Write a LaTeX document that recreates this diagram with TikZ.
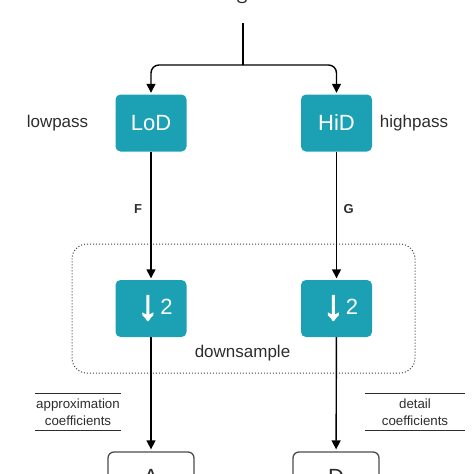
\documentclass[tikz,border=0pt]{standalone}
\usepackage{fontspec}
\setmainfont{Liberation Sans}
\newfontfamily\arrowfont[FakeBold=3]{Liberation Sans}
\usetikzlibrary{arrows.meta}
\definecolor{tealbox}{RGB}{28,161,180}
\definecolor{txtgray}{RGB}{45,45,45}
\newcommand{\downtwo}{\raisebox{-5pt}{\fontsize{42}{42}\arrowfont ↓}\hspace{2pt}2}
\begin{document}
\begin{tikzpicture}[x=1pt,y=-1pt,
  tbox/.style={fill=tealbox, rounded corners=5pt, minimum width=71pt, minimum height=57pt,
    text=white, font=\fontsize{22}{24}\selectfont, inner sep=0pt},
  obox/.style={draw=black!70, line width=1.3pt, fill=white, rounded corners=6pt,
    minimum width=86pt, minimum height=60pt, inner sep=0pt},
  arr/.style={draw=black, line width=1.4pt, -{Triangle[length=9pt,width=9pt]}},
  lbl/.style={font=\fontsize{17}{20}\selectfont, text=txtgray},
  small/.style={font=\fontsize{13.3}{16.5}\selectfont, text=txtgray, align=center,
    inner sep=0pt, minimum height=36pt},
  bold/.style={font=\fontsize{13}{15}\selectfont\bfseries, text=txtgray},
  rule/.style={draw=txtgray, line width=1.3pt},
]
\useasboundingbox (0,0) rectangle (474,474);
\clip (0,0) rectangle (474,474);

% top input
\node[lbl, anchor=base] (sig) at (242,3) {S};
\coordinate (s) at (243,23);
\coordinate (j) at (243,65);

% filters
\node[tbox] (lod) at (151,123) {LoD};
\node[tbox] (hid) at (336.5,123) {HiD};
\node[lbl] (lp) at (57.5,123) {lowpass};
\node[lbl] (hp) at (414,123) {highpass};

% downsample group
\node[draw=black!75, dotted, line width=1pt, rounded corners=15pt,
  minimum width=343pt, minimum height=129pt] (grp) at (243.5,308.5) {};
\node[tbox] (d1) at (151,308.5) {};
\node[tbox] (d2) at (336.5,308.5) {};
\node[text=white, font=\fontsize{22}{24}\selectfont, inner sep=0pt] (d1t) at (155,308) {\downtwo};
\node[text=white, font=\fontsize{22}{24}\selectfont, inner sep=0pt] (d2t) at (340.5,308) {\downtwo};
\node[lbl] (dsl) at (242.5,353) {downsample};

% outputs
\node[obox] (a) at (151,482) {};
\node[obox] (d) at (336,482) {};
\node[font=\fontsize{22}{24}\selectfont, text=txtgray, anchor=base] (at) at (151,484) {A};
\node[font=\fontsize{22}{24}\selectfont, text=txtgray, anchor=base] (dt) at (336,484) {D};

% coefficient labels
\node[small, minimum width=86pt] (ac) at (78,412) {approximation\\coefficients};
\node[small, minimum width=100pt] (dc) at (415,412) {detail\\coefficients};
\draw[rule] (ac.north west) -- (ac.north east);
\draw[rule] (ac.south west) -- (ac.south east);
\draw[rule] (dc.north west) -- (dc.north east);
\draw[rule] (dc.south west) -- (dc.south east);

% connectors
\draw[line width=2.2pt] (s) -- (j);
\draw[arr, rounded corners=8pt, shorten >=1.5pt] (j) -| (lod.north);
\draw[arr, rounded corners=8pt, shorten >=1.5pt] (j) -| (hid.north);
\draw[arr, shorten >=1.5pt] (lod) -- (d1) node[bold, pos=0.45, left=5pt] (f) {F};
\draw[arr, shorten >=1.5pt] (hid) -- (d2) node[bold, pos=0.45, right=3pt] (g) {G};
\draw[arr, shorten >=2pt] (d1) -- (a);
\draw[arr, shorten >=2pt] (d2) -- (d);
\end{tikzpicture}
\end{document}
